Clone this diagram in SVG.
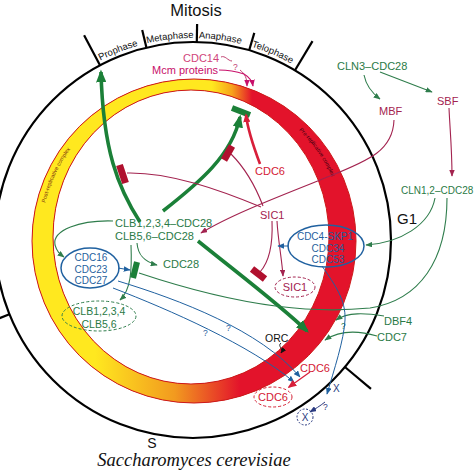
<svg xmlns="http://www.w3.org/2000/svg" width="474" height="474" viewBox="0 0 474 474">
<style>
text{font-family:"Liberation Sans",Arial,sans-serif;font-size:11px}
.gr{fill:#2a7a46}
.mg{fill:#a3234f}
.bu{fill:#1f5f9e}
.rd{fill:#d42034}
.gl{fill:none;stroke:#2f7d4c;stroke-width:1.1}
.gt{fill:none;stroke:#1b8038;stroke-width:3.6}
.ml{fill:none;stroke:#a3234f;stroke-width:1.1}
.bl{fill:none;stroke:#2061a0;stroke-width:1}
.bar{stroke:#b0102e;stroke-width:7;fill:none}
.gbar{stroke:#1b8038;stroke-width:6;fill:none}
.tick{stroke:#000;stroke-width:2.2}
.ph{font-size:9.5px;fill:#111}
.q{font-size:8.5px}
.tiny{font-size:5.5px}
</style>
<defs>
<marker id="ag" viewBox="0 0 10 8" refX="9" refY="4" markerWidth="7" markerHeight="5.6" markerUnits="userSpaceOnUse" orient="auto"><path d="M0,0 L10,4 L0,8 z" fill="#2f7d4c"/></marker>
<marker id="agt" viewBox="0 0 10 8" refX="8" refY="4" markerWidth="13" markerHeight="10.4" markerUnits="userSpaceOnUse" orient="auto"><path d="M0,0 L10,4 L0,8 z" fill="#1b8038"/></marker>
<marker id="am" viewBox="0 0 10 8" refX="9" refY="4" markerWidth="7" markerHeight="5.6" markerUnits="userSpaceOnUse" orient="auto"><path d="M0,0 L10,4 L0,8 z" fill="#a3234f"/></marker>
<marker id="amc" viewBox="0 0 10 8" refX="9" refY="4" markerWidth="7" markerHeight="5.6" markerUnits="userSpaceOnUse" orient="auto"><path d="M0,0 L10,4 L0,8 z" fill="#c8106a"/></marker>
<marker id="ab" viewBox="0 0 10 8" refX="9" refY="4" markerWidth="7" markerHeight="5.6" markerUnits="userSpaceOnUse" orient="auto"><path d="M0,0 L10,4 L0,8 z" fill="#2061a0"/></marker>
<marker id="an" viewBox="0 0 10 8" refX="9" refY="4" markerWidth="7" markerHeight="5.6" markerUnits="userSpaceOnUse" orient="auto"><path d="M0,0 L10,4 L0,8 z" fill="#2a3a80"/></marker>
<marker id="ar" viewBox="0 0 10 8" refX="8" refY="4" markerWidth="9" markerHeight="7.2" markerUnits="userSpaceOnUse" orient="auto"><path d="M0,0 L10,4 L0,8 z" fill="#d81f3a"/></marker>
<marker id="ak" viewBox="0 0 10 8" refX="9" refY="4" markerWidth="6" markerHeight="4.8" markerUnits="userSpaceOnUse" orient="auto"><path d="M0,0 L10,4 L0,8 z" fill="#111"/></marker>
<linearGradient id="gTop" gradientUnits="userSpaceOnUse" x1="212" y1="0" x2="252" y2="0">
<stop offset="0" stop-color="#ffe81f"/><stop offset="0.5" stop-color="#f7a21b"/><stop offset="1" stop-color="#e3132b"/>
</linearGradient>
<linearGradient id="gBot" gradientUnits="userSpaceOnUse" x1="95" y1="0" x2="240" y2="0">
<stop offset="0" stop-color="#ffe81f"/><stop offset="0.55" stop-color="#f29a1f"/><stop offset="1" stop-color="#e3132b"/>
</linearGradient>
<clipPath id="ringClip"><path clip-rule="evenodd" d="M32,241 a162,162 0 1,0 324,0 a162,162 0 1,0 -324,0 Z M53,237 a138,147 0 1,0 276,0 a138,147 0 1,0 -276,0 Z"/></clipPath>
<path id="phaseArc" d="M63.2,85.3 A202,202 0 0 1 322.8,85.3" fill="none"/>
<path id="postArc" d="M41.6,225.7 A152,152 0 0 1 85.5,131.5" fill="none"/>
<path id="preArc" d="M280.2,114.5 A152,152 0 0 1 339.8,199.7" fill="none"/>
</defs>
<rect width="474" height="474" fill="#fff"/>

<g id="cycle-circle">
<circle cx="193" cy="240" r="198" fill="none" stroke="#000" stroke-width="2.2"/>
<line class="tick" x1="100" y1="65.2" x2="84.1" y2="35.2"/>
<line class="tick" x1="146.4" y1="47.5" x2="142.2" y2="30"/>
<line class="tick" x1="196.8" y1="42" x2="197.1" y2="24"/>
<line class="tick" x1="249.2" y1="50.2" x2="254.3" y2="32.9"/>
<line class="tick" x1="295" y1="70.3" x2="312.5" y2="41.1"/>
<line class="tick" x1="344.9" y1="367" x2="371" y2="388.8"/>
<line class="tick" x1="9.4" y1="314.2" x2="-22.1" y2="326.9"/>
<text class="ph"><textPath href="#phaseArc" startOffset="65" text-anchor="middle">Prophase</textPath></text>
<text class="ph"><textPath href="#phaseArc" startOffset="118" text-anchor="middle">Metaphase</textPath></text>
<text class="ph"><textPath href="#phaseArc" startOffset="168" text-anchor="middle">Anaphase</textPath></text>
<text class="ph"><textPath href="#phaseArc" startOffset="222" text-anchor="middle">Telophase</textPath></text>
<text x="196" y="16" text-anchor="middle" style="font-size:16.5px" fill="#111">Mitosis</text>
<text x="397" y="224" style="font-size:15px" fill="#111">G1</text>
<text x="152" y="448" text-anchor="middle" style="font-size:14px" fill="#111">S</text>
</g>

<g id="band">
<g clip-path="url(#ringClip)">
<rect width="474" height="474" fill="#e3132b"/>
<rect x="0" y="0" width="265" height="200" fill="url(#gTop)"/>
<rect x="0" y="200" width="265" height="274" fill="url(#gBot)"/>
</g>
<circle cx="194" cy="241" r="162" fill="none" stroke="#cc1a1a" stroke-width="1"/>
<ellipse cx="191" cy="237" rx="138" ry="147" fill="none" stroke="#cc1a1a" stroke-width="1"/>
<text class="tiny" fill="#7a3010"><textPath href="#postArc" startOffset="50%" text-anchor="middle">Post-replicative complex</textPath></text>
<text class="tiny" fill="#3a0010"><textPath href="#preArc" startOffset="50%" text-anchor="middle">Pre-replicative complex</textPath></text>
</g>

<g id="connectors">
<path class="gt" d="M140,222 C118,188 103,150 101,72" marker-end="url(#agt)"/>
<path class="gt" d="M163,211 C200,182 232,155 240,117" marker-end="url(#agt)"/>
<line class="gbar" x1="232" y1="108" x2="250" y2="115"/>
<path class="gt" d="M198,241 C240,275 280,305 307,331" marker-end="url(#agt)"/>
<path d="M260,164 C254,148 248,132 246,115" fill="none" stroke="#d81f3a" stroke-width="2.6" marker-end="url(#ar)"/>
<path d="M221,57 C225,55 228,61 232,61" fill="none" stroke="#c04070" stroke-width="1"/>
<text class="q" x="233" y="70" fill="#c04070">?</text>
<path d="M240,70 C245,74 247,78 247,86" fill="none" stroke="#c04070" stroke-width="1" marker-end="url(#amc)"/>
<path d="M219,70 C228,70 238,72 244,74 C249,77 252,80 253,86" fill="none" stroke="#c8106a" stroke-width="1.1" marker-end="url(#amc)"/>
<path class="ml" d="M394,120 C393,150 370,160 330,176 C280,196 230,215 201,233" marker-end="url(#am)"/>
<path class="ml" d="M449,108 C450,130 452,150 452,176" marker-end="url(#am)"/>
<path class="ml" d="M261,207 C220,190 170,172 127,173"/>
<line class="bar" x1="119.5" y1="165" x2="125.5" y2="183"/>
<path class="ml" d="M263,206 C255,185 245,168 231,154"/>
<line class="bar" x1="232" y1="146" x2="224" y2="160"/>
<path class="ml" d="M272,221 C273,245 269,262 260,272"/>
<line class="bar" x1="252" y1="269" x2="265" y2="279"/>
<path class="ml" d="M277,221 C278,240 282,260 283,276" marker-end="url(#am)"/>
<path class="gl" d="M113,221 C80,220 52,230 55,245 C57,252 60,254 64,257" marker-end="url(#ag)"/>
<path class="gl" d="M137,243 C138,256 145,262 157,265" marker-end="url(#ag)"/>
<path class="gl" d="M131,245 C132,270 131,290 120,300" marker-end="url(#ag)"/>
<path class="gl" d="M364,75 C366,85 372,93 380,99" marker-end="url(#ag)"/>
<path class="gl" d="M380,72 L432,92" marker-end="url(#ag)"/>
<path class="gl" d="M435,198 C430,225 400,243 366,245" marker-end="url(#ag)"/>
<path class="gl" d="M447,198 C447,260 420,300 370,308 C320,313 250,310 139,273"/>
<line class="gbar" x1="137" y1="262" x2="133" y2="278"/>
<path class="gl" d="M384,316 C365,313 348,312 336,320" marker-end="url(#ag)"/>
<text class="q gr" x="341" y="329">?</text>
<path class="gl" d="M377,336 C360,331 340,330 325,340" marker-end="url(#ag)"/>
<path class="bl" d="M118,268 L130,270" marker-end="url(#ab)"/>
<path class="bl" d="M118,281 C180,300 260,330 300,377" marker-end="url(#ab)"/>
<path class="bl" d="M113,288 C170,310 250,345 294,382" marker-end="url(#ab)"/>
<text class="q bu" x="203" y="336">?</text>
<text class="q bu" x="226" y="331">?</text>
<path class="bl" d="M289,246 L278,246" marker-end="url(#ab)"/>
<path class="bl" d="M322,266 C335,285 346,300 345,320 C344,340 334,370 327,394" marker-end="url(#ab)"/>
<text x="333" y="392" style="font-size:10px" fill="#2a3a80">X</text>
<text class="q" x="323" y="410" fill="#2a3a80">?</text>
<path d="M325,402 C320,406 315,409 310,412" fill="none" stroke="#2a3a80" stroke-width="1" marker-end="url(#an)"/>
<path d="M281,343 C277,346 284,349 281,353" fill="none" stroke="#111" stroke-width="0.9" marker-end="url(#ak)"/>
<path d="M310,372 L289,387" fill="none" stroke="#d81f3a" stroke-width="1.3" marker-end="url(#ar)"/>
</g>

<g id="node-cdc14"><text x="183" y="62" fill="#d0457a">CDC14</text></g>
<g id="node-mcm"><text x="152" y="74" fill="#c8106a">Mcm proteins</text></g>
<g id="node-cdc6-top"><text x="255" y="175" class="rd">CDC6</text></g>
<g id="node-sic1"><text x="260" y="219" class="mg">SIC1</text></g>
<g id="node-clb-cdc28"><text class="gr"><tspan x="115" y="227">CLB1,2,3,4–CDC28</tspan><tspan x="115" y="240">CLB5,6–CDC28</tspan></text></g>
<g id="node-cdc28"><text x="163" y="268" class="gr">CDC28</text></g>
<g id="node-apc">
<ellipse cx="90" cy="268" rx="29" ry="20" fill="none" stroke="#2061a0" stroke-width="1.5"/>
<text class="bu" text-anchor="middle" style="font-size:10px"><tspan x="91" y="261">CDC16</tspan><tspan x="91" y="272.5">CDC23</tspan><tspan x="91" y="284">CDC27</tspan></text>
</g>
<g id="node-clb-degraded">
<ellipse cx="99" cy="316" rx="37" ry="15" fill="none" stroke="#2f7d4c" stroke-width="1" stroke-dasharray="3,2"/>
<text class="gr" text-anchor="middle" style="font-size:10.5px"><tspan x="99" y="315">CLB1,2,3,4</tspan><tspan x="99" y="327.5">CLB5,6</tspan></text>
</g>
<g id="node-scf">
<ellipse cx="326" cy="246" rx="38" ry="21" fill="none" stroke="#2061a0" stroke-width="1.5"/>
<text class="bu" text-anchor="middle" style="font-size:10px"><tspan x="325" y="240">CDC4-SKP1</tspan><tspan x="328" y="251.5">CDC34</tspan><tspan x="328" y="263">CDC53</tspan></text>
</g>
<g id="node-sic1-degraded">
<ellipse cx="295" cy="287" rx="20" ry="10" fill="none" stroke="#a3234f" stroke-width="1" stroke-dasharray="3,2"/>
<text x="295" y="291" text-anchor="middle" class="mg">SIC1</text>
</g>
<g id="node-cln3"><text x="337" y="70" class="gr">CLN3–CDC28</text></g>
<g id="node-mbf"><text x="379" y="115" class="mg">MBF</text></g>
<g id="node-sbf"><text x="437" y="105" class="mg">SBF</text></g>
<g id="node-cln12"><text x="401" y="194" class="gr" style="font-size:10px">CLN1,2–CDC28</text></g>
<g id="node-dbf4"><text x="384" y="325" class="gr">DBF4</text></g>
<g id="node-cdc7"><text x="377" y="341" class="gr">CDC7</text></g>
<g id="node-orc"><text x="265" y="342" style="font-size:10.5px" fill="#111">ORC</text></g>
<g id="node-cdc6"><text x="300" y="372" class="rd">CDC6</text></g>
<g id="node-cdc6-degraded">
<ellipse cx="273" cy="397" rx="19" ry="10" fill="none" stroke="#d42034" stroke-width="1" stroke-dasharray="3,2"/>
<text x="273" y="401" text-anchor="middle" class="rd">CDC6</text>
</g>
<g id="node-x-degraded">
<circle cx="305" cy="417" r="8" fill="none" stroke="#2a3a80" stroke-width="1" stroke-dasharray="2,1.5"/>
<text x="305" y="421" text-anchor="middle" style="font-size:10px" fill="#2a3a80">X</text>
</g>
<text x="194" y="466" text-anchor="middle" style="font-family:'Liberation Serif','Times New Roman',serif;font-style:italic;font-size:18.5px" fill="#111">Saccharomyces cerevisiae</text>
</svg>
